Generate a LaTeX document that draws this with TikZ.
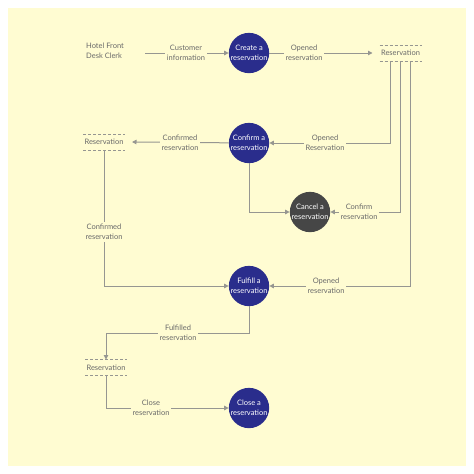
\documentclass[tikz,border=0pt]{standalone}
\usepackage{fontspec}
\setmainfont{Lato}
\usetikzlibrary{arrows.meta}

\definecolor{pagebg}{RGB}{255,252,210}
\definecolor{procblue}{RGB}{42,45,140}
\definecolor{procgray}{RGB}{70,70,70}
\definecolor{linegray}{RGB}{150,150,145}
\definecolor{txtgray}{RGB}{105,105,105}

\tikzset{
  process/.style={circle, fill=procblue, text=white, minimum size=40pt, inner sep=0pt,
    align=center, font=\fontsize{7.5}{10.5}\selectfont},
  cancelproc/.style={process, fill=procgray},
  store/.style={minimum width=42pt, minimum height=16pt, inner sep=0pt, outer xsep=7pt,
    outer ysep=0pt, text=txtgray, font=\fontsize{7.5}{10.5}\selectfont},
  storeline/.style={draw=linegray, densely dashed, line width=0.6pt},
  flow/.style={draw=linegray, line width=1pt, -{Triangle[length=4.5pt,width=4.5pt]}},
  flowlabel/.style={fill=pagebg, text=txtgray, align=center, inner sep=1.5pt,
    font=\fontsize{7.5}{10.5}\selectfont},
}

\begin{document}
\begin{tikzpicture}[x=1pt,y=1pt,yscale=-1,xscale=1]
    \useasboundingbox (0,0) rectangle (474,474);
    % background
    \fill [pagebg] (8,8) rectangle (466,466);

    % external entity
    \node [align=left, text=txtgray, font=\fontsize{7.5}{10.5}\selectfont] (clerk) at (105,51) {Hotel Front\\Desk Clerk};

    % processes
    \node [process] (create) at (249,53) {Create a\\reservation};
    \node [process] (confirm) at (249,143) {Confirm a\\reservation};
    \node [cancelproc] (cancel) at (310,212) {Cancel a\\reservation};
    \node [process] (fulfill) at (249,286) {Fulfill a\\reservation};
    \node [process] (close) at (249,408) {Close a\\reservation};

    % data stores
    \node [store] (resA) at (400.5,53) {Reservation};
    \node [store] (resB) at (104,142) {Reservation};
    \node [store] (resC) at (106,367.5) {Reservation};
    \foreach \s in {resA,resB,resC} {
      \draw [storeline] ([xshift=7pt]\s.north west) -- ([xshift=-7pt]\s.north east);
      \draw [storeline] ([xshift=7pt]\s.south west) -- ([xshift=-7pt]\s.south east);
    }

    % flows
    \draw [flow, shorten <=18pt] (clerk.east |- create) -- (create);
    \draw [flow] (create) -- (resA.west);
    \draw [flow] ([xshift=-10pt]resA.south) |- (confirm.east);
    \draw [flow] (confirm) -- (resB.east);
    \draw [flow] (resA.south) |- (cancel.east);
    \draw [flow] (confirm.south) |- (cancel.west);
    \draw [flow] ([xshift=10pt]resA.south) |- (fulfill.east);
    \draw [flow] (resB.south) |- (fulfill.west);
    \coordinate (fturn) at (106,333);
    \draw [flow] (fulfill.south) |- (fturn) -- (resC.north);
    \draw [flow] (resC.south) |- (close.west);

    % Text Node
    \node [flowlabel] (lcust) at (186,53) {Customer\\information};
    \node [flowlabel] (lopenA) at (304,53) {Opened\\reservation};
    \node [flowlabel] (lopenB) at (325,143) {Opened\\Reservation};
    \node [flowlabel] (lconfA) at (180,143) {Confirmed\\reservation};
    \node [flowlabel] (lcanc) at (359,212) {Confirm\\reservation};
    \node [flowlabel] (lopenC) at (326,286) {Opened\\reservation};
    \node [flowlabel] (lconfB) at (104,232) {Confirmed\\reservation};
    \node [flowlabel] (lfulf) at (178,333) {Fulfilled\\reservation};
    \node [flowlabel] (lclose) at (151,408) {Close\\reservation};
\end{tikzpicture}
\end{document}
